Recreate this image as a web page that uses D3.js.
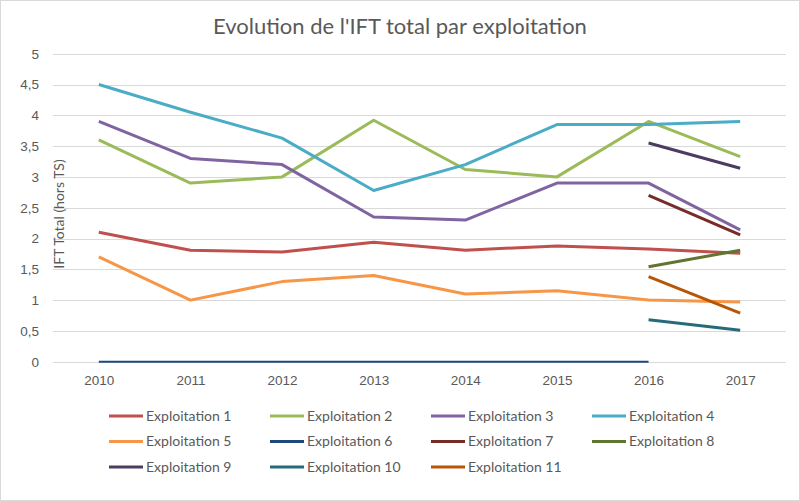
<!DOCTYPE html>
<meta charset="utf-8">
<style>
body { margin: 0; background: #fff; }
svg { font-family: Lato, "Open Sans", sans-serif; }
.grid line { stroke: #d9d9d9; shape-rendering: crispEdges; }
.axis text { fill: #595959; font-size: 13.5px; }
.legend text { fill: #595959; font-size: 14px; }
</style>
<svg class="chart"></svg>
<script src="https://d3js.org/d3.v7.min.js"></script>
<script>

var years = ["2010", "2011", "2012", "2013", "2014", "2015", "2016", "2017"];
var yTicks = [0, 0.5, 1, 1.5, 2, 2.5, 3, 3.5, 4, 4.5, 5];

var expl1 = [2.10, 1.81, 1.78, 1.94, 1.81, 1.88, 1.83, 1.76];
var expl2 = [3.60, 2.90, 3.00, 3.92, 3.12, 3.00, 3.90, 3.33];
var expl3 = [3.90, 3.30, 3.20, 2.35, 2.30, 2.90, 2.90, 2.14];
var expl4 = [4.50, 4.05, 3.63, 2.78, 3.20, 3.85, 3.85, 3.90];
var expl5 = [1.70, 1.00, 1.30, 1.40, 1.10, 1.15, 1.00, 0.97];
var expl6 = [0, 0, 0, 0, 0, 0, 0, null];
var expl7 = [null, null, null, null, null, null, 2.70, 2.06];
var expl8 = [null, null, null, null, null, null, 1.54, 1.81];
var expl9 = [null, null, null, null, null, null, 3.55, 3.14];
var expl10 = [null, null, null, null, null, null, 0.68, 0.51];
var expl11 = [null, null, null, null, null, null, 1.38, 0.79];

var seriesNames = ["Exploitation 1", "Exploitation 2", "Exploitation 3", "Exploitation 4",
  "Exploitation 5", "Exploitation 6", "Exploitation 7", "Exploitation 8",
  "Exploitation 9", "Exploitation 10", "Exploitation 11"];
var seriesColors = ["#c0504d", "#9bbb59", "#8064a2", "#4bacc6", "#f79646", "#1f497d",
  "#772c2a", "#5f7530", "#4d3b62", "#276a7c", "#b65708"];

var series = [expl1, expl2, expl3, expl4, expl5, expl6, expl7, expl8, expl9, expl10, expl11]
  .map(function (vals, i) { return { name: seriesNames[i], color: seriesColors[i], values: vals }; });

var W = 800, H = 501;
var svg = d3.select(".chart").attr("width", W).attr("height", H);

svg.append("rect")
    .attr("x", 0.5).attr("y", 0.5)
    .attr("width", W - 1).attr("height", H - 1)
    .attr("fill", "#fff").attr("stroke", "#d9d9d9");

var x = d3.scalePoint().domain(years).range([53, 786]).padding(0.5);
var y = d3.scaleLinear().domain([0, 5]).range([361.7, 53.7]);

svg.append("text")
    .attr("x", 400).attr("y", 34)
    .attr("text-anchor", "middle")
    .attr("fill", "#595959")
    .style("font-size", "22px")
    .text("Evolution de l'IFT total par exploitation");

svg.append("g").attr("class", "grid")
  .selectAll("line").data(yTicks).enter().append("line")
    .attr("x1", 53).attr("x2", 786)
    .attr("y1", function (d) { return Math.round(y(d)) + 0.5; })
    .attr("y2", function (d) { return Math.round(y(d)) + 0.5; });

var yAxis = svg.append("g").attr("class", "axis")
    .attr("transform", "translate(53,0)")
    .call(d3.axisLeft(y).tickValues(yTicks).tickSize(0).tickPadding(14)
      .tickFormat(function (d) { return String(d).replace(".", ","); }));
yAxis.select(".domain").remove();

var xAxis = svg.append("g").attr("class", "axis")
    .attr("transform", "translate(0,362)")
    .call(d3.axisBottom(x).tickSize(0).tickPadding(13));
xAxis.select(".domain").remove();

svg.append("text")
    .attr("transform", "translate(64,214) rotate(-90)")
    .attr("text-anchor", "middle")
    .attr("fill", "#595959")
    .style("font-size", "14px")
    .text("IFT Total (hors TS)");

var line = d3.line()
    .defined(function (d) { return d != null; })
    .x(function (d, i) { return x(years[i]); })
    .y(function (d) { return y(d); });

svg.append("g").selectAll("path").data(series).enter().append("path")
    .attr("fill", "none")
    .attr("stroke", function (d) { return d.color; })
    .attr("stroke-width", function (d) { return d.name === "Exploitation 6" ? 2 : 3; })
    .attr("stroke-linejoin", "round")
    .attr("d", function (d) { return line(d.values); });

var legend = svg.append("g").attr("class", "legend")
  .selectAll("g").data(series).enter().append("g")
    .attr("transform", function (d, i) {
      return "translate(" + (109 + (i % 4) * 161) + "," + (416 + Math.floor(i / 4) * 25.5) + ")";
    });

legend.append("line")
    .attr("x1", 0).attr("x2", 34)
    .attr("stroke", function (d) { return d.color; })
    .attr("stroke-width", 3);

legend.append("text")
    .attr("x", 37).attr("dy", "0.35em")
    .text(function (d) { return d.name; });

</script>
